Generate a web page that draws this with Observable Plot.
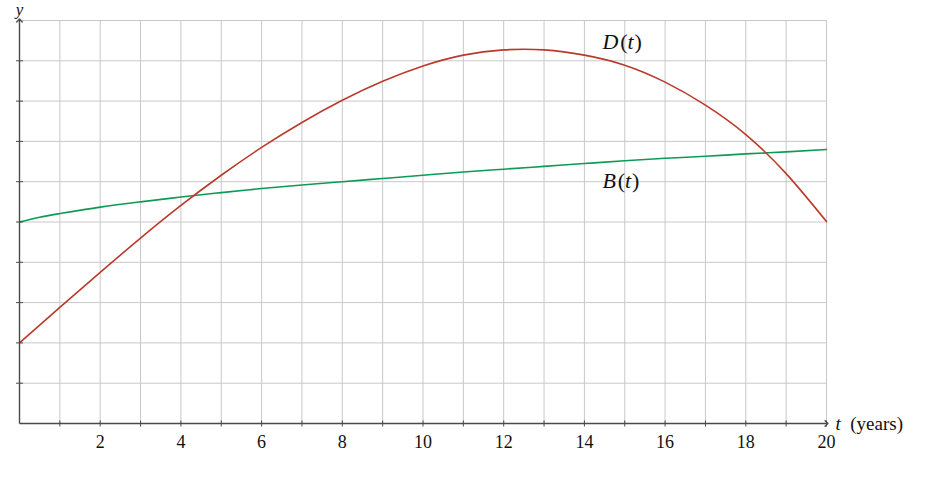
<!DOCTYPE html>
<html>
<head>
<meta charset="utf-8">
<script src="https://cdn.jsdelivr.net/npm/d3@7"></script>
<script src="https://cdn.jsdelivr.net/npm/@observablehq/plot@0.6"></script>
<style>
  html, body { margin: 0; padding: 0; background: #fff; }
  #chart svg { display: block; }
</style>
</head>
<body>
<div id="chart"></div>
<script>
// ---- Data ----
const dYears  = [0, 1, 2, 3, 4, 5, 6, 7, 8, 9, 10, 11, 12, 13, 14, 15, 16, 17, 18, 19, 20];
const dValues = [2.00, 2.88, 3.75, 4.60, 5.41, 6.16, 6.85, 7.47, 8.02, 8.49, 8.87, 9.14, 9.27, 9.27, 9.14, 8.89, 8.47, 7.90, 7.17, 6.20, 5.01];

const bYears  = [0, 0.5, 1, 2, 3, 4, 5, 6, 7, 8, 9, 10, 11, 12, 13, 14, 15, 16, 17, 18, 19, 20];
const bValues = [5.00, 5.12, 5.21, 5.37, 5.50, 5.62, 5.73, 5.83, 5.92, 6.00, 6.08, 6.16, 6.24, 6.31, 6.38, 6.45, 6.52, 6.58, 6.63, 6.69, 6.74, 6.80];

const xTickLabels = [2, 4, 6, 8, 10, 12, 14, 16, 18, 20];
const xMinorTicks = [1, 2, 3, 4, 5, 6, 7, 8, 9, 10, 11, 12, 13, 14, 15, 16, 17, 18, 19, 20];
const yMinorTicks = [1, 2, 3, 4, 5, 6, 7, 8, 9];
const yGridLines  = [1, 2, 3, 4, 5, 6, 7, 8, 9, 10];

const seriesNames  = ["D", "B"];
const seriesLabelT = [14.45, 14.45];
const seriesLabelV = [9.46, 6.02];

const xDomain = [0, 20];
const yDomain = [0, 10];

// ---- Tables built from the arrays ----
const dData = dYears.map((t, i) => ({t, v: dValues[i]}));
const bData = bYears.map((t, i) => ({t, v: bValues[i]}));
const labelData = seriesNames.map((name, i) => ({name, t: seriesLabelT[i], v: seriesLabelV[i]}));
const axesData = [
  {x1: xDomain[0], y1: yDomain[0], x2: xDomain[1], y2: yDomain[0]},
  {x1: xDomain[0], y1: yDomain[0], x2: xDomain[0], y2: yDomain[1]}
];

// tick symbols (crossing the axis)
const vTick = {draw(ctx, size) { const r = Math.sqrt(size / Math.PI); ctx.moveTo(0, -r); ctx.lineTo(0, r); }};
const hTick = {draw(ctx, size) { const r = Math.sqrt(size / Math.PI); ctx.moveTo(-r, 0); ctx.lineTo(r, 0); }};

const SERIF = "'Liberation Serif', 'DejaVu Serif', serif";
const AXIS = "#4a4a4a";
const GRID = "#c8c8c8";

const chart = Plot.plot({
  width: 927,
  height: 484,
  marginLeft: 19,
  marginRight: 101,
  marginTop: 20,
  marginBottom: 61,
  x: {domain: xDomain, axis: null},
  y: {domain: yDomain, axis: null},
  style: {fontFamily: SERIF, background: "#fff", overflow: "visible"},
  marks: [
    Plot.gridX(xMinorTicks, {stroke: GRID, strokeOpacity: 1, strokeWidth: 1}),
    Plot.gridY(yGridLines, {stroke: GRID, strokeOpacity: 1, strokeWidth: 1}),
    Plot.line(bData, {x: "t", y: "v", stroke: "#0e9a55", strokeWidth: 1.6, curve: "natural"}),
    Plot.line(dData, {x: "t", y: "v", stroke: "#b93a2b", strokeWidth: 1.6, curve: "natural"}),
    Plot.link(axesData, {x1: "x1", y1: "y1", x2: "x2", y2: "y2", stroke: AXIS, strokeWidth: 1.4, markerEnd: "arrow"}),
    Plot.dot(xMinorTicks, {x: d => d, y: yDomain[0], symbol: vTick, r: 3, fill: "none", stroke: AXIS, strokeWidth: 1}),
    Plot.dot(yMinorTicks, {x: xDomain[0], y: d => d, symbol: hTick, r: 3.5, fill: "none", stroke: AXIS, strokeWidth: 1}),
    Plot.text(xTickLabels, {x: d => d, y: yDomain[0], text: d => String(d), dy: 19, fontSize: 18, fill: "#111", fontFamily: SERIF}),
    Plot.text(labelData, {x: "t", y: "v", text: d => d.name + "(t)", textAnchor: "start", fontSize: 22, fill: "#111", fontFamily: SERIF}),
    Plot.text(["t (years)"], {x: xDomain[1], y: yDomain[0], text: d => d, textAnchor: "start", dx: 9, dy: 0, fontSize: 19, fill: "#111", fontFamily: SERIF}),
    Plot.text(["y"], {x: xDomain[0], y: yDomain[1], text: d => d, textAnchor: "middle", dx: 0, dy: -11, fontSize: 17, fill: "#111", fontFamily: SERIF, fontStyle: "italic"})
  ]
});

// Math-style italics for the variable letters, upright parentheses
d3.select(chart).selectAll("text").each(function() {
  const el = d3.select(this);
  const s = this.textContent;
  let m;
  if ((m = s.match(/^([A-Z])\(t\)$/))) {
    el.text(null);
    el.append("tspan").attr("font-style", "italic").text(m[1]);
    el.append("tspan").attr("dx", "0.08em").text("(");
    el.append("tspan").attr("font-style", "italic").text("t");
    el.append("tspan").attr("dx", "0.04em").text(")");
  } else if (s === "t (years)") {
    el.text(null);
    el.append("tspan").attr("font-style", "italic").text("t");
    el.append("tspan").text("\u2002(years)");
  }
});

document.getElementById("chart").appendChild(chart);
</script>
</body>
</html>
